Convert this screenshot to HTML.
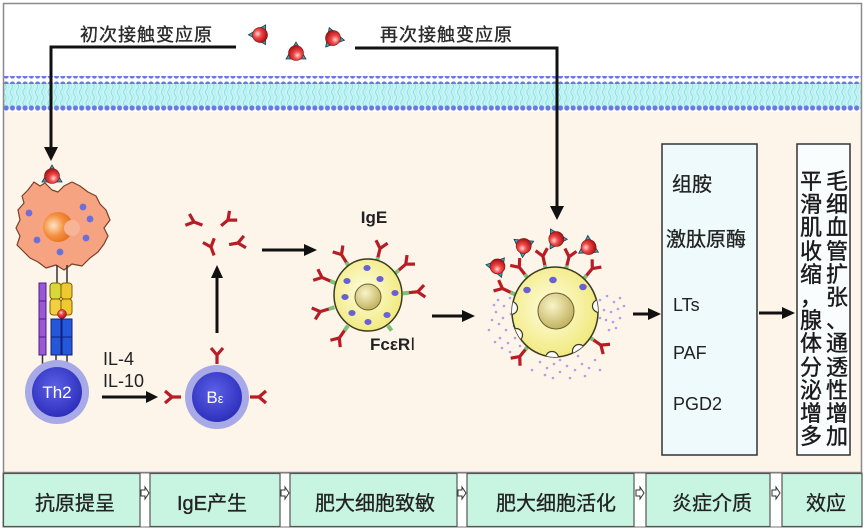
<!DOCTYPE html>
<html><head><meta charset="utf-8"><style>
html,body{margin:0;padding:0;background:#fff;}
svg{display:block;}
text{font-family:"Liberation Sans","Noto Sans CJK SC",sans-serif;}
</style></head><body>
<svg width="866" height="532" viewBox="0 0 866 532" xmlns="http://www.w3.org/2000/svg">
<defs>
  <pattern id="dots" patternUnits="userSpaceOnUse" x="3" y="0" width="6.3" height="8">
    <circle cx="3.15" cy="4" r="2.6" fill="#6a78e2"/>
  </pattern>
  <pattern id="tails" patternUnits="userSpaceOnUse" x="3" y="84" width="6.3" height="22">
    <path d="M2 0 q2.2 2.75 0 5.5 t0 5.5 t0 5.5 t0 5.5" stroke="#86dde6" stroke-width="0.9" fill="none"/>
    <path d="M4.6 0 q2.2 2.75 0 5.5 t0 5.5 t0 5.5 t0 5.5" stroke="#a8ecf0" stroke-width="0.8" fill="none"/>
  </pattern>
  <radialGradient id="red" cx="40%" cy="35%" r="65%">
    <stop offset="0" stop-color="#ffd8d8"/>
    <stop offset="0.4" stop-color="#f04848"/>
    <stop offset="1" stop-color="#a81010"/>
  </radialGradient>
  <radialGradient id="cellY" cx="45%" cy="45%" r="60%">
    <stop offset="0" stop-color="#fffde0"/>
    <stop offset="1" stop-color="#f0e878"/>
  </radialGradient>
  <radialGradient id="nuc" cx="40%" cy="35%" r="70%">
    <stop offset="0" stop-color="#f8f4c8"/>
    <stop offset="1" stop-color="#beae58"/>
  </radialGradient>
  <radialGradient id="onuc" cx="35%" cy="45%" r="70%">
    <stop offset="0" stop-color="#fde4c4"/>
    <stop offset="0.5" stop-color="#f59040"/>
    <stop offset="1" stop-color="#e06a18"/>
  </radialGradient>
  <radialGradient id="tcell" cx="45%" cy="40%" r="65%">
    <stop offset="0" stop-color="#5c60e8"/>
    <stop offset="1" stop-color="#2a2cb8"/>
  </radialGradient>
  <clipPath id="actclip"><ellipse cx="555" cy="312" rx="43" ry="45"/></clipPath>
  <g id="y"><path d="M0 9V0M0 0L-6 -7M0 0L6 -7" stroke="#b81c24" stroke-width="3.2" fill="none" stroke-linecap="butt"/></g>
  <g id="yg"><rect x="-2" y="9" width="4" height="6" fill="#7cc274"/><use href="#y"/></g>
  <g id="ag"><polygon points="-10,-6 10,-6 0,11" fill="#3f9fb0" stroke="#1f3f50" stroke-width="0.8"/><circle r="7.5" fill="url(#red)" stroke="#801010" stroke-width="0.6"/></g>
</defs>

<!-- backgrounds -->
<rect x="0" y="0" width="866" height="532" fill="#fff"/>
<rect x="3" y="112" width="859" height="360" fill="#fdf4ea"/>
<!-- membrane -->
<rect x="3" y="83" width="859" height="24" fill="#c8f4f4"/>
<rect x="3" y="84" width="859" height="22" fill="url(#tails)"/>
<rect x="3" y="76" width="859" height="8" fill="url(#dots)"/>
<rect x="3" y="105" width="859" height="8" fill="url(#dots)"/>
<!-- frame -->
<rect x="3.5" y="3.5" width="858" height="469" fill="none" stroke="#8a8a8a" stroke-width="1.5"/>

<!-- top labels -->
<text x="80" y="41" font-size="18" letter-spacing="1" fill="#2a2a2a" stroke="#2a2a2a" stroke-width="0.35">初次接触变应原</text>
<text x="380" y="41" font-size="18" letter-spacing="1" fill="#2a2a2a" stroke="#2a2a2a" stroke-width="0.35">再次接触变应原</text>

<!-- free antigens -->
<use href="#ag" transform="translate(260 35) rotate(-30)"/>
<use href="#ag" transform="translate(296 53) rotate(180)"/>
<use href="#ag" transform="translate(333 38) rotate(160)"/>

<!-- connectors -->
<polyline points="236,47 51,47 51,148" fill="none" stroke="#111" stroke-width="3"/>
<polygon points="44,147 58,147 51,161" fill="#111"/>
<polyline points="355,48 557,48 557,207" fill="none" stroke="#111" stroke-width="3"/>
<polygon points="550,206 564,206 557,220" fill="#111"/>

<!-- APC -->
<path d="M52 190 L45 183 L40 186 L34 182 L28 190 L22 196 L24 203 L18 210 L20 220 L16 228 L20 236 L17 245 L24 252 L30 258 L38 262 L46 268 L56 265 L64 270 L72 264 L82 266 L90 258 L98 252 L104 244 L108 236 L104 228 L110 220 L106 210 L100 204 L96 196 L88 192 L80 186 L72 182 L64 186 L58 192 Z" fill="#f6a382" stroke="#7a4028" stroke-width="1.2" stroke-linejoin="round"/>
<circle cx="58" cy="227" r="15" fill="url(#onuc)"/>
<circle cx="72" cy="228" r="8" fill="#f8b496"/>
<g fill="#6a70d8">
<circle cx="29" cy="213" r="3.4"/><circle cx="83" cy="207" r="3.4"/><circle cx="90" cy="219" r="3.4"/>
<circle cx="37" cy="240" r="3.4"/><circle cx="86" cy="238" r="3.4"/><circle cx="60" cy="252" r="3.4"/>
</g>
<use href="#ag" transform="translate(52 176) rotate(180)"/>

<!-- receptors -->
<line x1="57" y1="265" x2="57" y2="284" stroke="#333" stroke-width="1.5"/>
<line x1="67" y1="265" x2="67" y2="284" stroke="#333" stroke-width="1.5"/>
<rect x="39" y="283" width="7" height="72" fill="#9a58d8" stroke="#4a2080" stroke-width="1"/>
<line x1="39" y1="301" x2="46" y2="301" stroke="#4a2080"/><line x1="39" y1="319" x2="46" y2="319" stroke="#4a2080"/><line x1="39" y1="337" x2="46" y2="337" stroke="#4a2080"/>
<line x1="42.5" y1="355" x2="42.5" y2="366" stroke="#333" stroke-width="1.5"/>
<rect x="50" y="283" width="11" height="16" rx="3" fill="#d8d838" stroke="#806000"/>
<rect x="61" y="283" width="11" height="16" rx="3" fill="#f0c830" stroke="#806000"/>
<rect x="50" y="299" width="11" height="16" rx="3" fill="#f0d040" stroke="#806000"/>
<rect x="61" y="299" width="11" height="16" rx="3" fill="#f0c830" stroke="#806000"/>
<circle cx="62" cy="314" r="4.5" fill="url(#red)" stroke="#801010" stroke-width="0.5"/>
<rect x="51" y="319" width="10" height="18" fill="#2458d8" stroke="#102080"/>
<rect x="62" y="319" width="10" height="18" fill="#2458d8" stroke="#102080"/>
<rect x="51" y="337" width="10" height="18" fill="#2458d8" stroke="#102080"/>
<rect x="62" y="337" width="10" height="18" fill="#2458d8" stroke="#102080"/>
<line x1="56" y1="355" x2="56" y2="363" stroke="#333" stroke-width="1.5"/>
<line x1="67" y1="355" x2="67" y2="363" stroke="#333" stroke-width="1.5"/>

<!-- Th2 -->
<circle cx="57" cy="392" r="32" fill="#a8aae8"/>
<circle cx="57" cy="392" r="25" fill="url(#tcell)"/>
<text x="57" y="398" font-size="17" fill="#fff" text-anchor="middle">Th2</text>

<text x="103" y="365" font-size="18" fill="#222">IL-4</text>
<text x="103" y="387" font-size="18" fill="#222">IL-10</text>
<line x1="102" y1="397" x2="148" y2="397" stroke="#111" stroke-width="3"/>
<polygon points="146,391 158,397 146,403" fill="#111"/>

<!-- B cell -->
<circle cx="217" cy="397" r="32" fill="#a8aae8"/>
<circle cx="217" cy="397" r="25" fill="url(#tcell)"/>
<text x="215" y="403" font-size="17" fill="#fff" text-anchor="middle">B<tspan font-size="13">ε</tspan></text>
<use href="#y" transform="translate(217 397) rotate(0) translate(0 -42)"/>
<use href="#y" transform="translate(217 397) rotate(270) translate(0 -45)"/>
<use href="#y" transform="translate(217 397) rotate(90) translate(0 -42)"/>

<line x1="217" y1="333" x2="217" y2="276" stroke="#111" stroke-width="3"/>
<polygon points="211,278 217,265 223,278" fill="#111"/>

<!-- free antibodies -->
<use href="#y" transform="translate(194 222) rotate(-70)"/>
<use href="#y" transform="translate(228 220) rotate(50)"/>
<use href="#y" transform="translate(211 247) rotate(-20)"/>
<use href="#y" transform="translate(238 243) rotate(80)"/>

<line x1="262" y1="250" x2="306" y2="250" stroke="#111" stroke-width="3"/>
<polygon points="304,244 317,250 304,256" fill="#111"/>

<!-- sensitized mast cell -->
<text x="374" y="223" font-size="17" font-weight="bold" fill="#222" text-anchor="middle">IgE</text>
<g transform="translate(368 297)">
<use href="#yg" transform="rotate(-32) translate(0 -50)"/>
<use href="#yg" transform="rotate(14) translate(0 -50)"/>
<use href="#yg" transform="rotate(49) translate(0 -50)"/>
<use href="#yg" transform="rotate(84) translate(0 -50)"/>
<use href="#yg" transform="rotate(-67) translate(0 -50)"/>
<use href="#yg" transform="rotate(253) translate(0 -50)"/>
<use href="#yg" transform="rotate(215) translate(0 -50)"/>
<rect x="-2" y="-41" width="4" height="6" fill="#7cc274" transform="rotate(145)"/>
</g>
<ellipse cx="368" cy="295" rx="34" ry="36" fill="url(#cellY)" stroke="#3a3a20" stroke-width="1.5"/>
<circle cx="368" cy="297" r="13" fill="url(#nuc)" stroke="#6a6030" stroke-width="1"/>
<g fill="#6a60d4">
<ellipse cx="367" cy="268" rx="3.6" ry="3"/><ellipse cx="380" cy="279" rx="3.6" ry="3"/><ellipse cx="347" cy="281" rx="3.6" ry="3"/>
<ellipse cx="345" cy="297" rx="3.6" ry="3"/><ellipse cx="395" cy="293" rx="3.6" ry="3"/><ellipse cx="352" cy="313" rx="3.6" ry="3"/>
<ellipse cx="387" cy="315" rx="3.6" ry="3"/><ellipse cx="368" cy="322" rx="3.6" ry="3"/>
</g>
<text x="370" y="350" font-size="17" font-weight="bold" fill="#222">Fcε<tspan>R</tspan><tspan font-family="Liberation Serif,serif" font-weight="normal">Ⅰ</tspan></text>

<line x1="432" y1="316" x2="464" y2="316" stroke="#111" stroke-width="3"/>
<polygon points="462,310 475,316 462,322" fill="#111"/>

<!-- activated mast cell -->
<g fill="#b0a0e4">
<circle cx="498" cy="300" r="1.3"/><circle cx="504" cy="306" r="1.3"/><circle cx="510" cy="298" r="1.3"/><circle cx="496" cy="312" r="1.3"/><circle cx="503" cy="318" r="1.3"/><circle cx="511" cy="314" r="1.3"/><circle cx="499" cy="324" r="1.3"/><circle cx="506" cy="330" r="1.3"/><circle cx="514" cy="326" r="1.3"/><circle cx="500" cy="338" r="1.3"/><circle cx="508" cy="343" r="1.3"/><circle cx="515" cy="338" r="1.3"/><circle cx="520" cy="346" r="1.3"/><circle cx="494" cy="305" r="1.3"/><circle cx="517" cy="320" r="1.3"/><circle cx="492" cy="320" r="1.3"/><circle cx="502" cy="348" r="1.3"/><circle cx="510" cy="352" r="1.3"/><circle cx="489" cy="330" r="1.3"/><circle cx="495" cy="342" r="1.3"/>
<circle cx="600" cy="300" r="1.3"/><circle cx="607" cy="296" r="1.3"/><circle cx="614" cy="302" r="1.3"/><circle cx="620" cy="298" r="1.3"/><circle cx="604" cy="310" r="1.3"/><circle cx="611" cy="312" r="1.3"/><circle cx="618" cy="309" r="1.3"/><circle cx="624" cy="306" r="1.3"/><circle cx="606" cy="320" r="1.3"/><circle cx="613" cy="322" r="1.3"/><circle cx="620" cy="318" r="1.3"/><circle cx="600" cy="318" r="1.3"/><circle cx="609" cy="330" r="1.3"/><circle cx="616" cy="328" r="1.3"/>
<circle cx="540" cy="362" r="1.3"/><circle cx="547" cy="368" r="1.3"/><circle cx="554" cy="364" r="1.3"/><circle cx="560" cy="372" r="1.3"/><circle cx="567" cy="366" r="1.3"/><circle cx="575" cy="370" r="1.3"/><circle cx="582" cy="364" r="1.3"/><circle cx="589" cy="368" r="1.3"/><circle cx="545" cy="375" r="1.3"/><circle cx="553" cy="378" r="1.3"/><circle cx="570" cy="378" r="1.3"/><circle cx="585" cy="376" r="1.3"/><circle cx="595" cy="360" r="1.3"/><circle cx="600" cy="370" r="1.3"/><circle cx="578" cy="356" r="1.3"/><circle cx="560" cy="360" r="1.3"/><circle cx="532" cy="370" r="1.3"/>
</g>
<g transform="translate(555 313)">
<use href="#yg" transform="rotate(-65) translate(0 -58)"/>
<use href="#yg" transform="rotate(-38) translate(0 -58)"/>
<use href="#yg" transform="rotate(-12) translate(0 -58)"/>
<use href="#yg" transform="rotate(14) translate(0 -58)"/>
<use href="#yg" transform="rotate(40) translate(0 -58)"/>
<use href="#yg" transform="rotate(219) translate(0 -56)"/>
<use href="#yg" transform="rotate(125) translate(0 -56)"/>
</g>
<use href="#ag" transform="translate(497.5 266.4) rotate(-141)"/>
<use href="#ag" transform="translate(523.7 245.9) rotate(-115)"/>
<use href="#ag" transform="translate(556.3 239) rotate(-89)"/>
<use href="#ag" transform="translate(588.6 247.1) rotate(-63)"/>
<ellipse cx="555" cy="312" rx="43" ry="45" fill="url(#cellY)" stroke="#3a3a20" stroke-width="1.5"/>
<g clip-path="url(#actclip)" fill="#fff" stroke="#3a3a20" stroke-width="1.2">
<circle cx="511" cy="308" r="6.5"/><circle cx="516" cy="335" r="6.5"/><circle cx="552" cy="358" r="6.5"/><circle cx="579" cy="351" r="6.5"/><circle cx="599" cy="306" r="6.5"/>
</g>
<circle cx="556" cy="311" r="18" fill="url(#nuc)" stroke="#6a6030" stroke-width="1"/>
<g fill="#6a60d4">
<ellipse cx="553" cy="280" rx="3.8" ry="3.2"/><ellipse cx="583" cy="287" rx="3.8" ry="3.2"/><ellipse cx="527" cy="290" rx="3.8" ry="3.2"/>
</g>

<line x1="633" y1="314" x2="650" y2="314" stroke="#111" stroke-width="3"/>
<polygon points="648,308 661,314 648,320" fill="#111"/>

<!-- mediator box -->
<rect x="662" y="144" width="95" height="311" fill="#eefafc" stroke="#333" stroke-width="1.5"/>
<g fill="#222" stroke="#222" stroke-width="0.3">
<text x="672" y="191" font-size="20">组胺</text>
<text x="666" y="246" font-size="20">激肽原酶</text>
</g>
<text x="673" y="311" font-size="18" fill="#222">LTs</text>
<text x="673" y="359" font-size="18" fill="#222">PAF</text>
<text x="673" y="410" font-size="18" fill="#222">PGD2</text>

<line x1="759" y1="313" x2="784" y2="313" stroke="#111" stroke-width="3"/>
<polygon points="782,307 795,313 782,319" fill="#111"/>

<!-- effect box -->
<rect x="797" y="144" width="53" height="311" fill="#f9fdfd" stroke="#333" stroke-width="1.5"/>
<g font-size="22" fill="#1a1a1a" stroke="#1a1a1a" stroke-width="0.4" text-anchor="middle">
<text x="811" y="189">平</text><text x="811" y="212">滑</text><text x="811" y="235">肌</text><text x="811" y="259">收</text><text x="811" y="282">缩</text><text x="811" y="305">，</text><text x="811" y="328">腺</text><text x="811" y="351">体</text><text x="811" y="375">分</text><text x="811" y="398">泌</text><text x="811" y="421">增</text><text x="811" y="444">多</text>
<text x="837" y="189">毛</text><text x="837" y="212">细</text><text x="837" y="235">血</text><text x="837" y="259">管</text><text x="837" y="282">扩</text><text x="837" y="305">张</text><text x="837" y="328">、</text><text x="837" y="351">通</text><text x="837" y="375">透</text><text x="837" y="398">性</text><text x="837" y="421">增</text><text x="837" y="444">加</text>
</g>

<!-- bottom bar -->
<rect x="3" y="473" width="859" height="54" fill="#fff" stroke="#777" stroke-width="1"/>
<g fill="#c8f5e1" stroke="#555" stroke-width="1.2">
<rect x="3.5" y="473.5" width="136.5" height="53"/>
<rect x="150" y="473.5" width="130" height="53"/>
<rect x="290" y="473.5" width="167" height="53"/>
<rect x="467" y="473.5" width="167" height="53"/>
<rect x="646" y="473.5" width="124" height="53"/>
<rect x="782" y="473.5" width="80" height="53"/>
</g>
<g fill="#fff" stroke="#333" stroke-width="1">
<polygon points="141,490 145,490 145,487 149,493 145,499 145,496 141,496"/>
<polygon points="281,490 285,490 285,487 289,493 285,499 285,496 281,496"/>
<polygon points="458,490 462,490 462,487 466,493 462,499 462,496 458,496"/>
<polygon points="636,490 640,490 640,487 644,493 640,499 640,496 636,496"/>
<polygon points="772,490 776,490 776,487 780,493 776,499 776,496 772,496"/>
</g>
<g font-size="20" fill="#222" stroke="#222" stroke-width="0.3" text-anchor="middle">
<text x="75" y="510">抗原提呈</text>
<text x="212" y="510">IgE产生</text>
<text x="375" y="510">肥大细胞致敏</text>
<text x="556" y="510">肥大细胞活化</text>
<text x="712" y="510">炎症介质</text>
<text x="826" y="510">效应</text>
</g>
</svg>
</body></html>
